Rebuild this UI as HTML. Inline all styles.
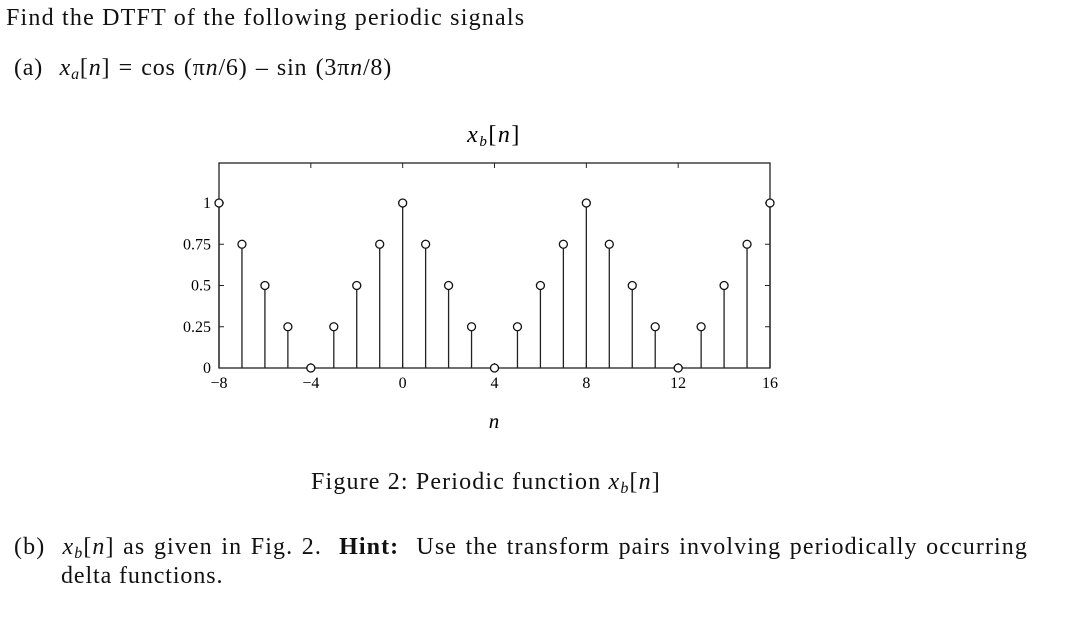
<!DOCTYPE html>
<html><head><meta charset="utf-8"><style>
body{margin:0;background:#fff;width:1086px;height:618px;overflow:hidden;font-family:"Liberation Serif",serif;color:#111}
.t{position:absolute;white-space:nowrap;font-size:24px;letter-spacing:1.2px}
i{font-style:italic}
sub{font-size:16px;vertical-align:-4px;line-height:0}
</style></head><body>
<div class="t" style="left:6px;top:5px">Find the DTFT of the following periodic signals</div>
<div class="t" style="left:14px;top:55px;letter-spacing:0.8px;word-spacing:1.5px">(a)&nbsp; <i>x<sub>a</sub></i>[<i>n</i>] = cos (π<i>n</i>/6) – sin (3π<i>n</i>/8)</div>
<svg width="1086" height="618" style="position:absolute;left:0;top:0" id="ch"></svg>
<div class="t" style="left:311px;top:469px;letter-spacing:1.15px">Figure 2: Periodic function <i>x<sub>b</sub></i>[<i>n</i>]</div>
<div class="t" style="left:14px;top:534px;width:1014px;white-space:normal;text-align:justify;text-align-last:justify;letter-spacing:1.1px;height:30px;overflow:hidden">(b)&nbsp; <i>x<sub>b</sub></i>[<i>n</i>] as given in Fig. 2. &nbsp;<b>Hint:</b> &nbsp;Use the transform pairs involving periodically occurring</div>
<div class="t" style="left:61px;top:563px;letter-spacing:0.9px">delta functions.</div>
<script>
const nVals=[-8,-7,-6,-5,-4,-3,-2,-1,0,1,2,3,4,5,6,7,8,9,10,11,12,13,14,15,16];
const xbVals=[1,0.75,0.5,0.25,0,0.25,0.5,0.75,1,0.75,0.5,0.25,0,0.25,0.5,0.75,1,0.75,0.5,0.25,0,0.25,0.5,0.75,1];
const xTicks=[-8,-4,0,4,8,12,16];
const xTickLabels=["−8","−4","0","4","8","12","16"];
const yTicks=[0,0.25,0.5,0.75,1];
const yTickLabels=["0","0.25","0.5","0.75","1"];
const L=219,R=770,T=163,B=368;
const sx=n=>L+(n+8)*(R-L)/24;
const sy=v=>B-v*165;
const svg=document.getElementById('ch');const NS='http://www.w3.org/2000/svg';
function mk(t,a,txt){const e=document.createElementNS(NS,t);for(const k in a)e.setAttribute(k,a[k]);if(txt!=null)e.textContent=txt;svg.appendChild(e);return e;}
const box=mk('rect',{x:L,y:T,width:R-L,height:B-T,fill:'none',stroke:'#222','stroke-width':1.3});


xTicks.forEach((t,i)=>{const x=sx(t);
mk('line',{x1:x,x2:x,y1:T,y2:T+5,stroke:'#222'});mk('line',{x1:x,x2:x,y1:B,y2:B-5,stroke:'#222'});
const l=mk('text',{x:x,y:B+20,'text-anchor':'middle','font-size':16,'font-family':'Liberation Serif, serif'},xTickLabels[i]);

});
yTicks.forEach((t,i)=>{const y=sy(t);
mk('line',{x1:L,x2:L+5,y1:y,y2:y,stroke:'#222'});mk('line',{x1:R,x2:R-5,y1:y,y2:y,stroke:'#222'});
const l=mk('text',{x:211,y:y+5,'text-anchor':'end','font-size':16,'font-family':'Liberation Serif, serif'},yTickLabels[i]);

});
nVals.forEach((n,i)=>{const x=sx(n),y=sy(xbVals[i]);
const s=mk('line',{x1:x,x2:x,y1:B,y2:y,stroke:'#222','stroke-width':1.3});


const c=mk('circle',{cx:x,cy:y,r:4,fill:'#fff',stroke:'#111','stroke-width':1.3});

});
const tt=mk('text',{x:494,y:142,'text-anchor':'middle','font-size':24,'font-family':'Liberation Serif, serif','font-style':'italic','letter-spacing':1.5});
tt.innerHTML='x<tspan font-size="15" dy="4">b</tspan><tspan dy="-4" font-style="normal">[</tspan>n<tspan font-style="normal">]</tspan>';


const xl=mk('text',{x:494,y:428,'text-anchor':'middle','font-size':21,'font-family':'Liberation Serif, serif','font-style':'italic'},'n');


</script>
</body></html>
